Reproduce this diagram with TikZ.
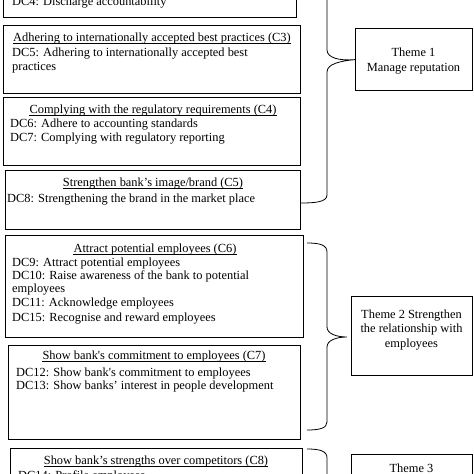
\documentclass[tikz,border=0pt]{standalone}
\usepackage{fontspec}
\setmainfont{Liberation Serif}
\begin{document}
\begin{tikzpicture}[x=1pt,y=-1pt,
  box/.style={draw, line width=1.2pt, inner sep=0pt, anchor=north west},
  txt/.style={anchor=base west, inner sep=0pt, font=\fontsize{12.4}{14}\selectfont},
  ttl/.style={anchor=base, inner sep=0pt, font=\fontsize{12.4}{14}\selectfont},
  thm/.style={anchor=base, inner sep=0pt, font=\fontsize{12.4}{14}\selectfont},
  ul/.style={draw, line width=0.6pt},
  brace/.style={draw, line width=0.8pt},
]
\useasboundingbox (0,0) rectangle (474,474);
\fill[white] (0,0) rectangle (474,474);
\begin{scope}
\clip (0,0) rectangle (474,474);
% boxes
\node[box, minimum width=293pt, minimum height=37pt] (b1) at (3,-20) {};
\node[box, minimum width=297pt, minimum height=68pt] (b2) at (3,25) {};
\node[box, minimum width=297pt, minimum height=68pt] (b3) at (3,97) {};
\node[box, minimum width=295pt, minimum height=59pt] (b4) at (5,170) {};
\node[box, minimum width=298pt, minimum height=102pt] (b5) at (5,235) {};
\node[box, minimum width=292pt, minimum height=94pt] (b6) at (8,345) {};
\node[box, minimum width=292pt, minimum height=52pt] (b7) at (10,448) {};
\node[box, minimum width=117pt, minimum height=62pt] (t1) at (355,28) {};
\node[box, minimum width=121pt, minimum height=79pt] (t2) at (351,296) {};
\node[box, minimum width=121pt, minimum height=66pt] (t3) at (351,454) {};
% box 1
\node[txt] (d4) at (12,5) {DC4: Discharge accountability};
% box 2
\node[ttl] (c3) at (152,41) {Adhering to internationally accepted best practices (C3)};
\node[txt] (d5) at (12,56) {DC5: Adhering to internationally accepted best};
\node[txt] (d5b) at (12,70) {practices};
% box 3
\node[ttl] (c4) at (153,113) {Complying with the regulatory requirements (C4)};
\node[txt] (d6) at (10,127) {DC6: Adhere to accounting standards};
\node[txt] (d7) at (10,141) {DC7: Complying with regulatory reporting};
% box 4
\node[ttl] (c5) at (153,186) {Strengthen bank’s image/brand (C5)};
\node[txt] (d8) at (7,202) {DC8: Strengthening the brand in the market place};
% box 5
\node[ttl] (c6) at (155,252) {Attract potential employees (C6)};
\node[txt] (d9) at (12,266) {DC9: Attract potential employees};
\node[txt] (d10) at (12,279) {DC10: Raise awareness of the bank to potential};
\node[txt] (d10b) at (12,292) {employees};
\node[txt] (d11) at (12,306) {DC11: Acknowledge employees};
\node[txt] (d15) at (12,321) {DC15: Recognise and reward employees};
% box 6
\node[ttl] (c7) at (154,359) {Show bank\textquotesingle s commitment to employees (C7)};
\node[txt] (d12) at (16,376) {DC12: Show bank\textquotesingle s commitment to employees};
\node[txt] (d13) at (16,389) {DC13: Show banks’ interest in people development};
% box 7
\node[ttl] (c8) at (156,464) {Show bank’s strengths over competitors (C8)};
\node[txt] (d14) at (18,479) {DC14: Profile employees};
% underlines of titles
\foreach \n in {c3,c4,c5,c6,c7,c8}
  \draw[ul] ([yshift=-2pt]\n.base west) -- ([yshift=-2pt]\n.base east);
% themes
\node[thm] (th1a) at (413.5,56) {Theme 1};
\node[thm] (th1b) at (413.5,71) {Manage reputation};
\node[thm] (th2a) at (411.5,318) {Theme 2 Strengthen};
\node[thm] (th2b) at (411.5,332) {the relationship with};
\node[thm] (th2c) at (411.5,347) {employees};
\node[thm] (th3a) at (411.5,472) {Theme 3};
% braces
\draw[brace] (327,-10) -- (327,50) .. controls (327,58) and (340,61) .. (t1.west)
  .. controls (340,61) and (327,64) .. (327,72) -- (327,195)
  .. controls (327,202) and (315,203) .. (b4.east |- 0,203);
\draw[brace] (307,243) .. controls (320,243) and (327,245) .. (327,252) -- (327,327)
  .. controls (327,334) and (337,337) .. (347,337)
  .. controls (337,337) and (327,340) .. (327,347) -- (327,422)
  .. controls (327,428) and (320,430) .. (307,430);
\draw[brace] (307,449) .. controls (320,449) and (327,451) .. (327,458) -- (327,480);
\end{scope}
\end{tikzpicture}
\end{document}
